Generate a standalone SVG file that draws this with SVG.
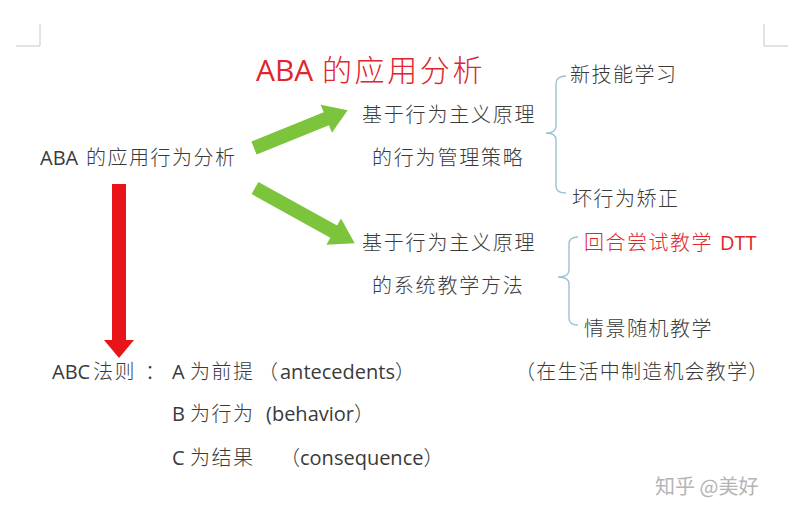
<svg xmlns="http://www.w3.org/2000/svg" width="800" height="520" viewBox="0 0 800 520">
<style>
.t{font-family:"Noto Sans CJK SC","Liberation Sans",sans-serif;font-size:20px;fill:#3a3a3a;font-weight:300}
.lat{font-family:"Open Sans","Liberation Sans","Noto Sans CJK SC",sans-serif;font-weight:400}
.red{fill:#e0262a}
.brace{fill:none;stroke:#9cc2d4;stroke-width:1.4}
.corner{fill:none;stroke:#c8c8c8;stroke-width:1}
.green{fill:#7cc43c}
</style>
<rect width="800" height="520" fill="#ffffff"/>
<g id="corners">
<path class="corner" d="M40,24 V46 H16"/>
<path class="corner" d="M764,24 V46 H788"/>
</g>
<g id="title"><text class="t red" x="256" y="81" style="font-size:30px"><tspan class="lat">ABA</tspan><tspan x="322" letter-spacing="2.6">的应用分析</tspan></text></g>
<g id="connectors">
<polygon class="green" transform="translate(254,148) rotate(-22)" points="0,-7 78,-7 78,-15 101,0 78,15 78,7 0,7"/>
<polygon class="green" transform="translate(255,188) rotate(29)" points="0,-7 90,-7 90,-15 114,0 90,15 90,7 0,7"/>
<polygon fill="#e8141a" points="112,184 126,184 126,340 134,340 119,358 104,340 112,340"/>
<path class="brace" d="M566,76 Q556,76 556,84 L556,126 Q556,133 546,133 Q556,133 556,140 L556,186 Q556,193 566,193"/>
<path class="brace" d="M578,237 Q569,237 569,244 L569,270 Q569,277 558,277 Q569,277 569,284 L569,318 Q569,325 578,325"/>
</g>
<g id="n-root"><text class="t" x="40" y="165"><tspan class="lat">ABA</tspan><tspan x="86" letter-spacing="1.5">的应用行为分析</tspan></text></g>
<g id="n-strategy"><text class="t" letter-spacing="1.8"><tspan x="362" y="122">基于行为主义原理</tspan><tspan x="372" y="165">的行为管理策略</tspan></text></g>
<g id="n-method"><text class="t" letter-spacing="1.8"><tspan x="362" y="250">基于行为主义原理</tspan><tspan x="372" y="293">的系统教学方法</tspan></text></g>
<g id="n-new"><text class="t" x="570" y="82" letter-spacing="1.5">新技能学习</text></g>
<g id="n-bad"><text class="t" x="572" y="206" letter-spacing="1.5">坏行为矫正</text></g>
<g id="n-dtt"><text class="t red" x="584" y="250"><tspan letter-spacing="1.5">回合尝试教学</tspan><tspan class="lat" x="720">DTT</tspan></text></g>
<g id="n-net"><text class="t" x="584" y="336" letter-spacing="1.5">情景随机教学</text></g>
<g id="n-abc">
<text class="t" y="379"><tspan class="lat" x="52">ABC</tspan><tspan x="93" letter-spacing="1.5">法则</tspan><tspan x="145">：</tspan><tspan class="lat" x="172">A</tspan><tspan x="190" letter-spacing="1.5">为前提</tspan><tspan x="258">（</tspan><tspan class="lat" x="280">antecedents</tspan><tspan>）</tspan></text>
<text class="t" x="515" y="379" letter-spacing="1.2">（在生活中制造机会教学）</text>
<text class="t" y="421"><tspan class="lat" x="172">B</tspan><tspan x="190" letter-spacing="1.5">为行为</tspan><tspan class="lat" x="266">(behavior</tspan><tspan>）</tspan></text>
<text class="t" y="465"><tspan class="lat" x="172">C</tspan><tspan x="190" letter-spacing="1.5">为结果</tspan><tspan x="280">（</tspan><tspan class="lat" x="300">consequence</tspan><tspan>）</tspan></text>
</g>
<g id="watermark"><text x="655" y="494" style="font-family:'Noto Sans CJK SC',sans-serif;font-size:20px;fill:#b4b4b4">知乎 @美好</text></g>
</svg>
